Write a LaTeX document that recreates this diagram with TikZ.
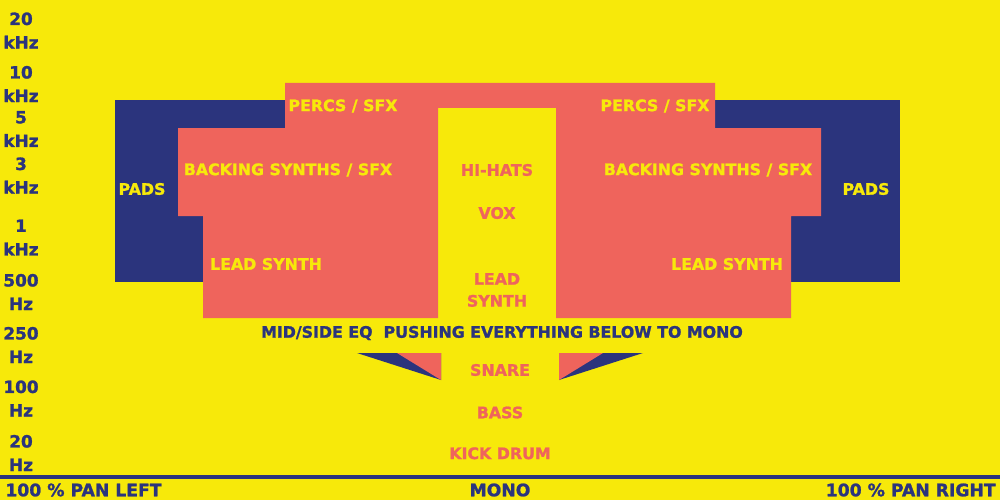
\documentclass[tikz,border=0pt]{standalone}
\usepackage{fontspec}
\setmainfont{DejaVu Sans}
\newfontfamily\heavyfont{DejaVu Sans Bold}[FakeBold=1.3]
\usetikzlibrary{positioning}

\definecolor{bgyellow}{RGB}{247,233,10}
\definecolor{salmon}{RGB}{239,100,92}
\definecolor{navy}{RGB}{43,52,125}

\tikzset{
  lbl/.style={font=\heavyfont\fontsize{9}{13.4}\selectfont, inner sep=0pt},
  onpink/.style={lbl, text=bgyellow},
  onyellow/.style={lbl, text=salmon},
  axislbl/.style={lbl, text=navy, align=center, font=\heavyfont\fontsize{9.6}{13.4}\selectfont},
  panlbl/.style={lbl, text=navy, font=\heavyfont\fontsize{9.8}{12}\selectfont},
}

\begin{document}
\begin{tikzpicture}[x=0.02cm,y=-0.02cm]
    % Background
    \fill[bgyellow] (0,0) rectangle (1000,500);
    \useasboundingbox (0,0) rectangle (1000,500);

    % Pads (behind)
    \fill[navy] (115,100) rectangle (285,282);
    \fill[navy] (715,100) rectangle (900,282);

    % Stereo block with mono gap in the middle
    \fill[salmon] (285,83) -- (715,83) -- (715,128) -- (821,128) -- (821,216) -- (791,216)
      -- (791,318) -- (556,318) -- (556,108) -- (438,108) -- (438,318) -- (203,318)
      -- (203,216) -- (178,216) -- (178,128) -- (285,128) -- cycle;

    % Wedges under the mid/side line
    \fill[navy] (357,353) -- (441,353) -- (441,380) -- cycle;
    \fill[salmon] (397,353) -- (441,353) -- (441,380) -- cycle;
    \fill[navy] (643,353) -- (559,353) -- (559,380) -- cycle;
    \fill[salmon] (603,353) -- (559,353) -- (559,380) -- cycle;

    % Frequency scale
    \foreach \v/\u/\y [count=\i] in {20/kHz/30.5, 10/kHz/84, 5/kHz/129, 3/kHz/175.5, 1/kHz/237.5,
      500/Hz/292, 250/Hz/345, 100/Hz/398.5, 20/Hz/453} {
      \node[axislbl] (f\i) at (21,\y) {\v\\\u};
    }

    % Left side
    \node[onpink] (percsL) at (343,106) {PERCS / SFX};
    \node[onpink] (backL) at (288,170) {BACKING SYNTHS / SFX};
    \node[onpink] (padsL) at (142,189) {PADS};
    \node[onpink] (leadL) at (266,264) {LEAD SYNTH};

    % Right side
    \node[onpink] (percsR) at (655,106) {PERCS / SFX};
    \node[onpink] (backR) at (708,170) {BACKING SYNTHS / SFX};
    \node[onpink] (padsR) at (866,189) {PADS};
    \node[onpink] (leadR) at (727,264) {LEAD SYNTH};

    % Centre
    \node[onyellow] (hihat) at (497,170) {HI-HATS};
    \node[onyellow] (vox) at (497,213) {VOX};
    \node[onyellow, align=center, font=\heavyfont\fontsize{9}{12.5}\selectfont] (leadC) at (497,290) {LEAD\\SYNTH};
    \node[lbl, text=navy] (midside) at (502,333) {MID/SIDE EQ\ \ PUSHING EVERYTHING BELOW TO MONO};
    \node[onyellow] (snare) at (500,370) {SNARE};
    \node[onyellow, below=17pt of snare] (bass) {BASS};
    \node[onyellow, below=16pt of bass] (kick) {KICK DRUM};

    % Pan axis
    \coordinate (panL) at (0,477);
    \coordinate (panR) at (1000,477);
    \draw[navy, line width=1.8pt] (panL) -- (panR);
    \node[panlbl, anchor=west] (left) at (5,490) {100 \% PAN LEFT};
    \node[panlbl] (mono) at (500,490) {MONO};
    \node[panlbl, anchor=east] (right) at (996,490) {100 \% PAN RIGHT};
\end{tikzpicture}
\end{document}
